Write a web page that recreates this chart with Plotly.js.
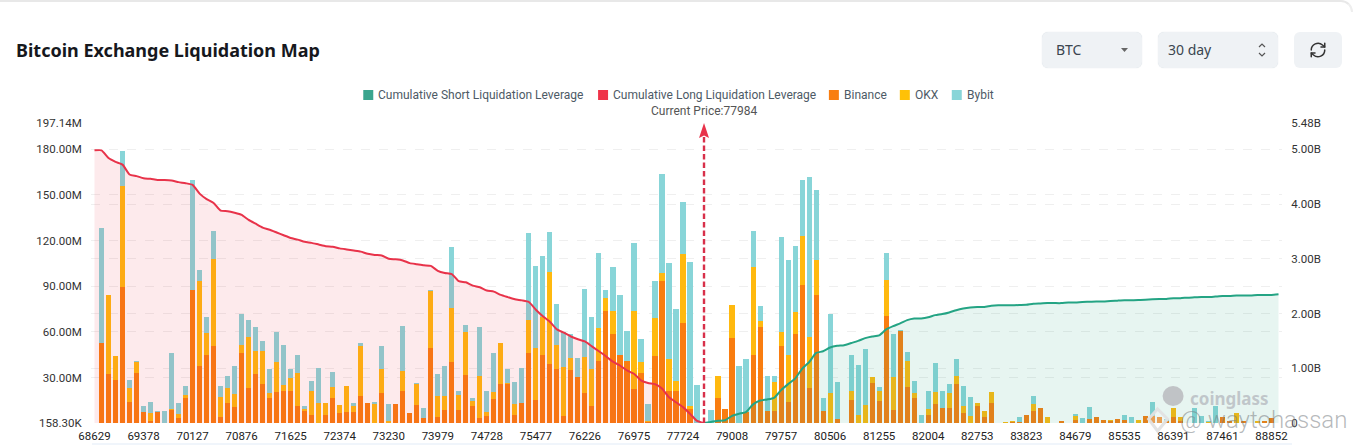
<!DOCTYPE html>
<html>
<head>
<meta charset="utf-8">
<script src="https://cdn.plot.ly/plotly-3.0.1.min.js"></script>
<style>
html,body{margin:0;padding:0;background:#fff;width:1358px;height:445px;overflow:hidden;font-family:"Noto Sans",Roboto,sans-serif}
#chart{position:absolute;left:0;top:0;width:1358px;height:445px}
.card{position:absolute;left:-4px;top:0;width:1357px;border-top:2px solid #e8e8e8;border-right:2px solid #eeeeee;border-radius:0 12px 0 0;box-sizing:border-box;height:12px}
.strip{position:absolute;left:92px;top:443px;width:1200px;height:2px;background:#f0f5fb}
.ctl{position:absolute;top:32px;height:36px;background:#eff2f5;border-radius:6px;box-shadow:0 0 1px #cfd6dd;color:#3b4650;font-size:14px;line-height:36px;box-sizing:border-box;padding-left:14px}
</style>
</head>
<body>
<div id="chart"></div>
<div class="card"></div>
<div class="strip"></div>
<div class="ctl" style="left:1042px;width:100px">BTC
  <svg style="position:absolute;left:78px;top:15px" width="10" height="6"><path d="M1 1h7l-3.5 4z" fill="#666"/></svg>
</div>
<div class="ctl" style="left:1158px;width:120px;padding-left:10px">30 day
  <svg style="position:absolute;left:99px;top:9px" width="10" height="18"><path d="M2 6l3-3 3 3M2 12l3 3 3-3" stroke="#555" stroke-width="1.2" fill="none"/></svg>
</div>
<div class="ctl" style="left:1294px;width:48px;padding:0;box-shadow:none">
  <svg style="position:absolute;left:15px;top:9px" width="18" height="18" viewBox="0 0 24 24" fill="none" stroke="#333" stroke-width="2" stroke-linecap="round" stroke-linejoin="round"><path d="M3 12a9 9 0 0 1 15-6.7L21 8"/><path d="M21 3v5h-5"/><path d="M21 12a9 9 0 0 1-15 6.7L3 16"/><path d="M3 21v-5h5"/></svg>
</div>
<script>
const priceLabels = ["68629","69378","70127","70876","71625","72374","73230","73979","74728","75477","76226","76975","77724","79008","79757","80506","81255","82004","82753","83823","84679","85535","86391","87461","88852"];

const binance = [0,52.6,32.4,28.7,89.4,13.8,33.3,7.2,1.8,7.2,.3,8.8,3.3,16.4,87.8,37.9,45,50.4,4.4,13.1,10.5,46,23.4,32.2,25.6,16.4,20.8,21.5,21.5,11,7.9,5.7,0,5.7,16.4,6.6,7.2,7.2,17.7,13.1,0,20.1,0,12.7,21.5,6.8,11.8,3.5,49.7,4.4,9,39.9,9,31.5,11.6,3.5,4.8,16,25.6,25.6,5.5,13.1,46.4,15.5,44.5,39.2,35.5,5,34.8,30.4,19.7,11,40.7,73.6,58.3,44.5,40.7,22.4,33,.5,44,93.3,21,21.5,65.7,9.4,0,0,0,16.4,9.4,55.8,0,7.2,45,63.5,7.9,8.3,50.4,14.2,58.3,91,23,84,8.3,0,2.6,0,15.5,0,0,26.3,14.9,70.7,9,60.4,24,16.4,0,5.5,12.7,10,10.3,26,7,0,11.2,3.9,13.1,0,0,.9,.5,5.5,8,10,0,0,1.3,0,2,0,2.8,4,1.9,1.8,3,2.2,0,0,4.5,4.8,3.9,1.8,4,1.8,0,0,0,0,0,4,1.8,0,1.8,0,0,1.5,3.5,0];
const okx = [0,0,51.5,15.3,66.1,9.2,6.7,0,5.2,0,0,.8,2.8,2.4,0,55.8,14,57.6,13.1,10.1,8.5,5.5,33.1,15.5,21.9,3.7,19.2,3.9,8.1,21.9,1.7,15.8,13.4,7.4,7.6,5.4,17.1,4.4,32.9,0,12.7,15.8,1.3,0,13.1,0,14,0,37,13.3,8.7,35.9,9.8,28.3,3.3,27.8,2.9,4.4,27,.9,7.2,0,21.6,33.8,25.5,60,16.2,31.8,7.9,0,23.7,24.7,21.7,8.7,15.3,0,0,51.4,7,1,25.2,5.2,21,6.5,45.1,1.6,0,0,0,14.9,0,21.9,0,0,57.5,3.5,0,18.7,9.4,30.8,14.7,31.9,33.7,22.9,0,19.9,0,.2,6,5.5,11.8,3.9,6.6,23.5,21.2,0,17,3.6,0,3.9,7.7,0,9.8,4.7,4,4.6,1.9,4,7.3,0,.9,.6,.5,0,4.5,0,4.4,0,0,0,2.8,0,0,0,0,.6,0,0,0,2.3,.5,0,0,0,6.3,2.2,0,0,0,.5,0,0,0,7,0,0,1.8,0,0,0];
const bybit = [0,75.4,0,0,23.5,5.7,1,4,6.8,.7,7.6,36.4,7.5,5.7,71.7,6.6,11,18,7.2,8.1,18.9,20.3,11.5,15.3,6.2,15.6,19.6,25.8,6.1,12.2,2,6.1,23,0,9.7,0,.4,1.5,2.4,0,1.1,14.5,11.4,0,29.4,0,.7,6.8,.9,14.7,19.7,40.2,2.7,5,1.5,32.2,13.8,26,0,9.4,14.5,23.3,56.8,53.7,40,26.3,26.9,23,15.6,12.2,44.6,33.9,49.3,5.5,28.7,39.8,19.9,44.7,15.4,11.2,24.1,64.9,63,47,34.2,94.8,25.2,0,8.8,0,0,0,37.9,35.3,23.5,9.9,22.8,4.3,62.2,62.5,43.7,37,105.1,46.1,8.3,51.9,24.8,.2,23.5,33,37.2,0,2.1,17.8,28.5,.9,6,7.8,5.5,11.6,19.2,11,5.5,11.6,13.7,12.9,0,.4,0,0,0,0,3.4,0,5.7,0,0,.2,0,0,1.4,3.7,7.7,0,0,0,0,3.5,4,0,0,9,0,1.2,0,0,0,10.3,5,1,11.2,0,0,0,0,0,0,0,0,0];

const longCum = [4.98,4.98,4.84,4.77,4.72,4.54,4.51,4.47,4.46,4.44,4.44,4.43,4.40,4.38,4.35,4.19,4.09,4.02,3.88,3.87,3.84,3.80,3.71,3.64,3.57,3.53,3.48,3.43,3.38,3.35,3.31,3.29,3.26,3.23,3.22,3.19,3.17,3.15,3.13,3.09,3.07,3.06,3.00,2.99,2.97,2.92,2.90,2.88,2.87,2.78,2.74,2.72,2.59,2.57,2.51,2.48,2.42,2.40,2.34,2.30,2.26,2.24,2.21,2.07,1.95,1.85,1.71,1.65,1.58,1.53,1.49,1.40,1.31,1.22,1.12,1.05,.96,.90,.78,.73,.71,.63,.47,.38,.29,.17,.04,0];
const shortCum = [0,.02,.04,.05,.13,.17,.20,.34,.41,.43,.46,.60,.71,.81,.99,1.11,1.28,1.31,1.38,1.41,1.42,1.46,1.50,1.55,1.58,1.60,1.71,1.77,1.82,1.88,1.91,1.91,1.93,1.97,1.99,2.02,2.06,2.09,2.11,2.12,2.12,2.14,2.15,2.15,2.15,2.155,2.16,2.18,2.185,2.19,2.19,2.19,2.20,2.20,2.21,2.215,2.22,2.22,2.23,2.235,2.24,2.24,2.245,2.25,2.26,2.265,2.265,2.28,2.28,2.29,2.295,2.30,2.30,2.31,2.32,2.32,2.33,2.33,2.33,2.34,2.34,2.34,2.35];

const leftTickVals = [0.1583,30,60,90,120,150,180,197.14];
const leftTickText = ["158.30K","30.00M","60.00M","90.00M","120.00M","150.00M","180.00M","197.14M"];
const rightTickVals = [0,1,2,3,4,5,5.48];
const rightTickText = ["0","1.00B","2.00B","3.00B","4.00B","5.00B","5.48B"];
const legendNames = ["Cumulative Short Liquidation Leverage","Cumulative Long Liquidation Leverage","Binance","OKX","Bybit"];
const legendColors = ["#3aa58e","#ef3349","#f97e11","#ffc107","#88d5d8"];
const currentPriceIndex = 87;
const currentPriceText = "Current Price:77984";

const bins = binance.map((_, i) => i);
const tickIdx = priceLabels.map((_, i) => i * 7);
const longX = longCum.map((_, i) => i);
const shortX = shortCum.map((_, i) => i + currentPriceIndex);

const L = 90.5, R = 1282.5, T = 123, B = 423;
const xp = x => (x - L) / (R - L);
const yp = y => (B - y) / (B - T);
const font = "Roboto, sans-serif";

const bar = (name, y, color) => ({type:'bar', name, x:bins, y, marker:{color, line:{width:0}}, yaxis:'y', hoverinfo:'skip', showlegend:false});
const traces = [
  bar('Binance', binance, '#f97d10'),
  bar('OKX', okx, '#ffb90f'),
  bar('Bybit', bybit, '#88d5d8'),
  {type:'scatter', mode:'lines', name:'Cumulative Long Liquidation Leverage', x:longX, y:longCum, yaxis:'y2', fill:'tozeroy',
   fillcolor:'rgba(238,50,70,0.10)', line:{color:'#e8334a', width:2, shape:'spline', smoothing:0.5}, hoverinfo:'skip', showlegend:false},
  {type:'scatter', mode:'lines', name:'Cumulative Short Liquidation Leverage', x:shortX, y:shortCum, yaxis:'y2', fill:'tozeroy',
   fillcolor:'rgba(36,164,132,0.11)', line:{color:'#24a484', width:2, shape:'spline', smoothing:0.5}, hoverinfo:'skip', showlegend:false}
];

const legendX = [363, 598, 829, 900, 952];
const shapes = [
  {type:'line', xref:'x', yref:'paper', x0:currentPriceIndex, x1:currentPriceIndex, y0:0, y1:yp(137), line:{color:'#d8304a', width:2.4, dash:'5.5px,3px'}},
  {type:'path', xref:'x', yref:'paper', xsizemode:'pixel', ysizemode:'pixel', xanchor:currentPriceIndex, yanchor:1,
   path:'M0,0 L5,-15 L0,-12.5 L-5,-15 Z', fillcolor:'#e8334a', line:{width:0}},
  {type:'circle', xref:'paper', yref:'paper', x0:xp(1163), x1:xp(1184), y0:yp(406), y1:yp(386), fillcolor:'rgba(190,192,195,0.95)', line:{width:0}},
  {type:'path', xref:'paper', yref:'paper', path:`M${xp(1158)},${yp(409)} L${xp(1168)},${yp(419)} L${xp(1158)},${yp(431)} L${xp(1149)},${yp(419)} Z`, fillcolor:'rgba(255,255,255,0.25)', line:{color:'rgba(225,225,225,0.95)', width:3}}
].concat(legendNames.map((n, i) => ({type:'rect', xref:'paper', yref:'paper', x0:xp(legendX[i]), x1:xp(legendX[i]+10), y0:yp(100), y1:yp(90), fillcolor:legendColors[i], line:{width:0}})));

const annotations = legendNames.map((n, i) => ({text:n, xref:'paper', yref:'paper', x:xp(legendX[i]+13), y:yp(95), xanchor:'left', yanchor:'middle', showarrow:false, font:{family:font, size:12, color:'#4d5a66'}}))
.concat([
  {text:currentPriceText, xref:'x', yref:'paper', x:currentPriceIndex, y:yp(111), xanchor:'center', yanchor:'middle', showarrow:false, font:{family:font, size:12, color:'#555'}},
  {text:'<b>coinglass</b>', xref:'paper', yref:'paper', x:xp(1188), y:yp(398), xanchor:'left', yanchor:'middle', showarrow:false, font:{family:'"Noto Sans", sans-serif', size:17, color:'rgba(185,190,195,0.85)'}},
  {text:'@ waytohassan', xref:'paper', yref:'paper', x:xp(1178), y:yp(420), xanchor:'left', yanchor:'middle', showarrow:false, font:{family:font, size:24, color:'rgba(120,125,130,0.55)', weight:300}}
]);

const layout = {
  width:1358, height:445,
  margin:{l:L, r:1358-R, t:T, b:445-B, pad:0},
  paper_bgcolor:'#fff', plot_bgcolor:'#fff',
  title:{text:'Bitcoin Exchange Liquidation Map', xref:'container', yref:'container', x:16/1358, xanchor:'left', y:1-51/445, yanchor:'middle',
         font:{family:'"Noto Sans", sans-serif', size:18, weight:700, color:'#16181d'}},
  barmode:'stack', bargap:0.27, showlegend:false,
  xaxis:{type:'linear', range:[-0.5,169.5], tickmode:'array', tickvals:tickIdx, ticktext:priceLabels, showgrid:false, zeroline:false, showline:false,
         ticks:'outside', ticklen:2, tickcolor:'rgba(0,0,0,0)', tickfont:{family:font, size:11.5, color:'#222'}, tickangle:0},
  yaxis:{range:[0.1583,197.14], tickmode:'array', tickvals:leftTickVals, ticktext:leftTickText, gridcolor:'#efefef', griddash:'dash', gridwidth:1, zeroline:false, showline:false,
         ticks:'outside', ticklen:6, tickcolor:'rgba(0,0,0,0)', tickfont:{family:font, size:11.5, color:'#333'}},
  yaxis2:{range:[0,5.48], overlaying:'y', side:'right', tickmode:'array', tickvals:rightTickVals, ticktext:rightTickText, gridcolor:'#efefef', griddash:'dash', gridwidth:1, showgrid:true, zeroline:false, showline:false,
         ticks:'outside', ticklen:6, tickcolor:'rgba(0,0,0,0)', tickfont:{family:font, size:11.5, color:'#333'}},
  shapes, annotations
};
Plotly.newPlot('chart', traces, layout, {displayModeBar:false, staticPlot:true});
</script>
</body>
</html>
